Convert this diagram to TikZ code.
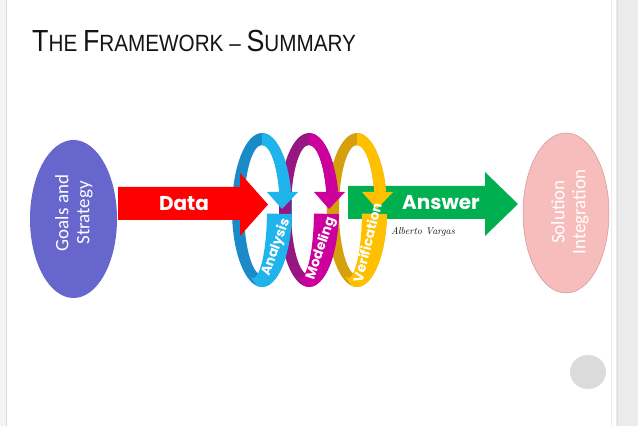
\documentclass[tikz,border=0pt]{standalone}
\usepackage{fontspec}
\usepackage{graphicx}
\usetikzlibrary{shapes.geometric}
\newfontfamily\titlef{Liberation Sans}
\newfontfamily\carl{Carlito}
\newfontfamily\popp{Poppins}
\definecolor{titlec}{RGB}{20,20,20}
\definecolor{goalc}{RGB}{102,102,204}
\definecolor{solc}{RGB}{247,188,188}
\definecolor{solb}{RGB}{205,150,150}
\definecolor{redc}{RGB}{255,0,0}
\definecolor{grnc}{RGB}{0,176,80}
\definecolor{bluedk}{RGB}{26,138,200}
\definecolor{bluelt}{RGB}{32,180,236}
\definecolor{magdk}{RGB}{150,22,130}
\definecolor{maglt}{RGB}{204,0,156}
\definecolor{golddk}{RGB}{214,160,12}
\definecolor{goldlt}{RGB}{255,192,0}
\definecolor{edgec}{RGB}{236,236,236}
\definecolor{edgeline}{RGB}{218,218,218}
\tikzset{
  ringlbl/.style={text=white, inner sep=0pt, font=\popp\bfseries\fontsize{13.5}{13.5}\selectfont},
  arrlbl/.style={text=white, inner sep=0pt, font=\popp\bfseries\fontsize{20}{20}\selectfont},
  elltxt/.style={text=white, inner sep=0pt, align=center, rotate=90, font=\carl\fontsize{19}{21}\selectfont}
}
\newcommand\ringback[2]{%
  \fill[#2, even odd rule] (#1,216) ellipse [x radius=30pt, y radius=77pt]
        (#1,216) ellipse [x radius=18pt, y radius=65pt];}
\newcommand\ringfront[6]{%
  \begin{scope}[shift={(#1,216)}]
    \fill[#2] (90:30pt and 77pt) arc[start angle=90, end angle=14, x radius=30pt, y radius=77pt]
      -- (14:18pt and 65pt) arc[start angle=14, end angle=90, x radius=18pt, y radius=65pt] -- cycle;
    \fill[#2] (5,18) -- (36,18) -- (20,1) -- cycle;
    \fill[#2] (-3:30pt and 77pt) arc[start angle=-3, end angle=-100, x radius=30pt, y radius=77pt]
      -- (-11.43,-66.97) arc[start angle=-100, end angle=-3, x radius=14pt, y radius=68pt] -- cycle;
    \node[ringlbl, rotate=#4] (#6) at (#5) {#3};
  \end{scope}}
\begin{document}
\begin{tikzpicture}[x=1pt, y=1pt]
\useasboundingbox (0,0) rectangle (638,426);
\fill[white] (0,0) rectangle (638,426);
% slide edges
\fill[edgec!60] (0,0) rectangle (6,426);
\draw[edgeline, line width=0.8pt] (6,0) -- (6,426);
\draw[edgec, line width=1pt] (611,0) -- (611,426);
\fill[edgec] (616,0) rectangle (638,426);
\draw[edgeline, line width=1pt] (617.5,0) -- (617.5,426);
\draw[edgeline!70, line width=1pt] (621.5,0) -- (621.5,426);
% title
\node[anchor=base west, inner sep=0pt, text=titlec] (title) at (32,374)
  {\titlef\scalebox{0.88}[1]{\fontsize{30.5}{30}\selectfont T\fontsize{23.5}{24}\selectfont HE
   \fontsize{30.5}{30}\selectfont F\fontsize{23.5}{24}\selectfont RAMEWORK – \fontsize{30.5}{30}\selectfont S\fontsize{23.5}{24}\selectfont UMMARY}};
% ellipses
\node[draw=none, fill=goalc, ellipse, minimum width=87pt, minimum height=158pt, inner sep=0pt] (goals) at (73.5,207) {};
\node[elltxt] (goalstxt) at (74,213) {Goals and\\Strategy};
\node[draw=solb, line width=0.5pt, fill=solc, ellipse, minimum width=86pt, minimum height=160pt, inner sep=0pt] (sol) at (566,213) {};
\node[elltxt] (soltxt) at (570,214) {Solution\\Integration};
% ring backs
\ringback{262}{bluedk}
\ringback{309}{magdk}
\ringback{357}{golddk}
% arrows
\fill[redc] (118,206) -- (240,206) -- (240,190) -- (268,221.5) -- (240,253) -- (240,239) -- (118,239) -- cycle;
\node[arrlbl] (data) at (184,222) {Data};
\fill[grnc] (348,207) -- (485,207) -- (485,190) -- (518,222) -- (485,254) -- (485,240) -- (348,240) -- cycle;
\node[arrlbl] (answer) at (441,223) {Answer};
% ring fronts
\ringfront{262}{bluelt}{Analysis}{70}{14,-37.5}{analysis}
\ringfront{309}{maglt}{Modeling}{71}{12,-38.5}{modeling}
\ringfront{357}{goldlt}{Verification}{76}{10,-32.5}{verification}
% author
\node[inner sep=0pt, text=titlec, font=\itshape\fontsize{10}{10}\selectfont] (author) at (423,194) {Alberto Vargas};
% gray dot
\node[fill=black!14, ellipse, minimum width=36pt, minimum height=34pt, inner sep=0pt] (dot) at (588,54) {};
\end{tikzpicture}
\end{document}
